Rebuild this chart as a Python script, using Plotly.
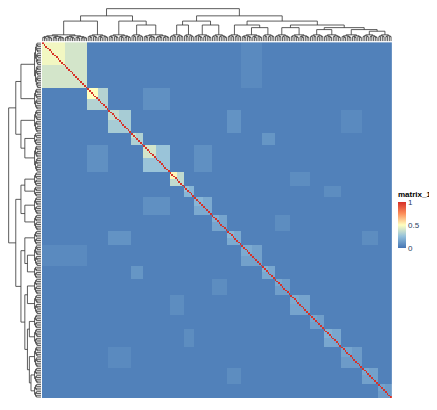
import numpy as np
import plotly.graph_objects as go

# block structure of the clustered matrix (rows/cols in order)
block_sizes = [26, 12, 13, 7, 15, 8, 6, 10, 9, 8, 12, 7, 9, 11, 8, 10, 12, 9, 8]
block_levels = [0.40, 0.33, 0.30, 0.32, 0.27, 0.36, 0.22, 0.18, 0.16, 0.18, 0.15, 0.17, 0.14, 0.16, 0.14, 0.17, 0.13, 0.15, 0.13]
core_levels = [0.47, 0.50, 0.36, 0.38, 0.40, 0.52, 0.26, 0.22, 0.2, 0.22, 0.18, 0.2, 0.17, 0.18, 0.16, 0.2, 0.16, 0.17, 0.15]
background = 0.04
# off-diagonal patches: (row block, col block, value)
patches = [(1, 4, 0.09), (2, 9, 0.1), (3, 11, 0.11), (4, 7, 0.09), (5, 13, 0.08),
           (0, 10, 0.07), (6, 15, 0.08), (8, 12, 0.08), (2, 16, 0.07), (9, 17, 0.08)]
# top-level clustering of blocks and merge heights per depth
block_tree = [[[0, 1], [2, [3, 4]]], [[[5, 6], [7, 8]], [[9, [10, 11]], [[12, 13], [[14, 15], [16, [17, 18]]]]]]]
depth_heights = [1.0, 0.78, 0.62, 0.5, 0.42, 0.36, 0.31, 0.27]

starts = np.cumsum([0] + block_sizes)
N = starts[-1]
z = np.full((N, N), background)
for (a, b, v) in patches:
    z[starts[a]:starts[a + 1], starts[b]:starts[b + 1]] = v
    z[starts[b]:starts[b + 1], starts[a]:starts[a + 1]] = v
for i, (lev, core) in enumerate(zip(block_levels, core_levels)):
    s, e = starts[i], starts[i + 1]
    z[s:e, s:e] = lev
    c = max(1, (e - s) // 2)
    z[s:s + c, s:s + c] = core
np.fill_diagonal(z, 1.0)

# dendrogram segments
segs = []

def sub(lo, hi, h):
    if hi - lo == 1:
        return lo, 0.0
    mid = (lo + hi) // 2
    x1, h1 = sub(lo, mid, h * 0.85)
    x2, h2 = sub(mid, hi, h * 0.85)
    segs.append((x1, h1, x2, h2, h))
    return (x1 + x2) / 2, h

def tree(node, depth):
    if isinstance(node, int):
        return sub(starts[node], starts[node + 1], 0.2)
    x1, h1 = tree(node[0], depth + 1)
    x2, h2 = tree(node[1], depth + 1)
    h = depth_heights[depth]
    segs.append((x1, h1, x2, h2, h))
    return (x1 + x2) / 2, h

tree(block_tree, 0)
px, py = [], []
for x1, h1, x2, h2, h in segs:
    px += [x1, x1, x2, x2, None]
    py += [h1, h, h, h2, None]

fig = go.Figure()
fig.add_trace(go.Heatmap(
    z=z, x=np.arange(N), y=np.arange(N), zmin=0, zmax=1,
    colorscale=[[0, '#4575b4'], [0.25, '#91bfdb'], [0.5, '#ffffbf'], [0.75, '#fc8d59'], [1, '#d73027']],
    colorbar=dict(x=0.909, xanchor='left',
                  y=0.46, yanchor='middle', lenmode='pixels', len=46, thickness=8,
                  tickvals=[0, 0.5, 1], ticktext=['0', '0.5', '1'],
                  tickfont=dict(size=8), outlinewidth=0, ticks='', ypad=0, xpad=0),
    xaxis='x', yaxis='y', showscale=True))
fig.add_trace(go.Scatter(x=px, y=py, mode='lines', line=dict(color='#333', width=0.8),
                         xaxis='x2', yaxis='y2', hoverinfo='skip'))
fig.add_trace(go.Scatter(x=py, y=px, mode='lines', line=dict(color='#333', width=0.8),
                         xaxis='x3', yaxis='y3', hoverinfo='skip'))

noax = dict(showgrid=False, zeroline=False, showticklabels=False, ticks='')
fig.update_layout(
    width=429, height=402, margin=dict(l=0, r=0, t=0, b=0), showlegend=False,
    plot_bgcolor='white', paper_bgcolor='white', font=dict(family='Liberation Sans'),
    xaxis=dict(domain=[0.079, 0.895], range=[-0.5, N - 0.5], **noax),
    yaxis=dict(domain=[0.03, 0.915], range=[N - 0.5, -0.5], **noax),
    xaxis2=dict(domain=[0.079, 0.895], range=[-0.5, N - 0.5], anchor='y2', **noax),
    yaxis2=dict(domain=[0.917, 1.0], range=[0, 1.02], anchor='x2', **noax),
    xaxis3=dict(domain=[0.0, 0.077], range=[1.02, 0], anchor='y3', **noax),
    yaxis3=dict(domain=[0.03, 0.915], range=[N - 0.5, -0.5], anchor='x3', **noax),
    annotations=[dict(text='<b>matrix_1</b>', x=0.905, y=0.52, xref='paper', yref='paper',
                      xanchor='left', yanchor='bottom', showarrow=False,
                      font=dict(size=8, color='black'))],
)
fig.write_html("out.html")
